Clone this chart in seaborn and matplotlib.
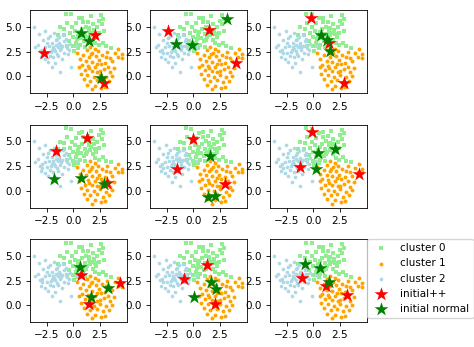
import numpy as np
import pandas as pd
import matplotlib
matplotlib.use("Agg")
import matplotlib.pyplot as plt
import seaborn as sns

# cluster points (x, y)
cluster0 = [
    (-0.73, 6.31), (-0.18, 6.27), (2.66, 6.18), (2.85, 5.83), (2.47, 5.62), (2.74, 5.24), (2.28, 4.97),
    (1.96, 4.72), (1.63, 4.41), (2.41, 4.36), (0.52, 5.84), (0.94, 5.47), (0.27, 5.36), (-0.13, 4.93),
    (-0.57, 5.41), (-1.22, 4.96), (1.17, 5.02), (1.52, 4.83), (0.81, 4.74), (0.16, 4.58), (-0.34, 4.37),
    (0.43, 4.12), (1.08, 4.26), (1.31, 3.94), (0.69, 3.83), (-0.04, 3.96), (-0.41, 3.57), (0.22, 3.38),
    (0.63, 3.16), (1.04, 3.52), (1.83, 3.68), (2.09, 3.33), (2.43, 3.12), (3.08, 3.04), (3.58, 2.86),
    (0.07, 2.58), (0.48, 2.83), (-0.92, 4.22), (-0.63, 3.08), (1.58, 4.17), (2.19, 3.96), (0.87, 5.92),
    (1.38, 5.53), (-0.84, 4.78), (1.12, 2.96), (2.77, 3.37), (-0.02, 3.04), (1.87, 5.27), (1.45, 4.58),
    (0.58, 4.47), (1.21, 3.71), (2.05, 4.24), (0.31, 3.72), (-1.43, 4.18), (2.92, 4.62), (1.68, 6.06),
]
cluster1 = [
    (1.58, 2.97), (2.03, 2.76), (1.27, 2.62), (1.81, 2.38), (2.36, 2.51), (4.27, 2.72), (4.58, 2.21),
    (3.96, 2.34), (4.63, 1.87), (4.18, 1.93), (0.96, 2.13), (1.52, 1.97), (2.14, 2.04), (2.72, 2.19),
    (3.07, 1.96), (3.48, 1.87), (0.62, 1.74), (1.24, 1.58), (1.77, 1.46), (2.42, 1.63), (2.97, 1.37),
    (3.63, 1.52), (0.83, 1.18), (1.41, 1.08), (2.02, 0.96), (2.63, 1.22), (3.28, 0.98), (3.81, 0.87),
    (1.07, 0.62), (1.73, 0.57), (2.28, 0.48), (2.88, 0.73), (3.46, 0.41), (0.71, 0.27), (1.34, 0.12),
    (1.92, -0.03), (2.48, 0.14), (3.12, -0.08), (3.67, 0.03), (1.02, -0.28), (1.62, -0.47), (2.23, -0.36),
    (2.81, -0.58), (3.38, -0.46), (1.27, -0.86), (2.04, -0.97), (2.58, -1.18), (1.79, -1.31), (3.02, -1.06),
    (0.38, 2.36), (1.63, 2.22), (2.21, 1.28), (1.48, 0.81), (2.51, 0.52), (3.22, 2.46), (0.58, 0.94),
]
cluster2 = [
    (-3.68, 5.02), (-3.27, 4.31), (-2.62, 4.58), (-2.17, 4.08), (-1.83, 4.37), (-1.38, 4.02), (-0.97, 4.17),
    (-0.72, 3.78), (-2.88, 3.71), (-2.46, 3.37), (-3.31, 3.18), (-3.57, 2.93), (-2.96, 2.68), (-2.68, 2.91),
    (-2.27, 3.02), (-1.97, 3.41), (-1.66, 3.62), (-1.31, 3.36), (-1.02, 3.07), (-0.62, 2.88), (-0.28, 3.27),
    (-1.48, 2.96), (-1.79, 2.72), (-2.12, 2.47), (-2.52, 2.38), (-2.91, 2.31), (-3.18, 2.52), (-1.21, 2.63),
    (-0.88, 2.37), (-0.52, 2.21), (-1.57, 2.28), (-2.23, 2.07), (-1.88, 1.92), (-1.42, 2.03), (-2.67, 1.77),
    (-2.41, 1.48), (-1.72, 1.38), (-1.08, 1.71), (-0.18, 0.97), (-1.23, 0.48), (-2.02, 0.91), (-0.83, 3.58),
    (-1.52, 3.81), (-2.38, 3.83), (-1.13, 2.88), (0.27, 3.02), (-0.41, 2.68), (-3.02, 1.98), (-1.62, 3.17),
    (-1.93, 2.98), (-1.28, 3.12), (-2.02, 2.68), (-1.69, 2.51), (-0.71, 3.21),
]

# initial centroids for each of the 9 runs
init_pp = [
    [(-2.8, 2.4), (2.1, 4.2), (2.9, -0.7)],
    [(-2.4, 4.6), (1.5, 4.7), (4.0, 1.3)],
    [(-0.2, 5.9), (1.5, 3.4), (2.9, -0.7)],
    [(-1.6, 4.0), (1.3, 5.3), (3.2, 0.8)],
    [(0.0, 5.2), (-1.5, 2.2), (3.0, 0.7)],
    [(-0.1, 5.9), (-1.3, 2.4), (4.3, 1.7)],
    [(0.7, 3.1), (4.4, 2.3), (1.5, 0.1)],
    [(-0.9, 2.7), (1.3, 4.1), (2.0, 0.1)],
    [(-1.1, 2.8), (1.2, 1.9), (3.2, 1.0)],
]
init_normal = [
    [(0.7, 4.4), (1.5, 3.6), (2.6, -0.2)],
    [(-1.6, 3.3), (-0.1, 3.2), (3.2, 5.8)],
    [(0.7, 4.2), (1.3, 3.7), (1.6, 2.6)],
    [(-1.8, 1.2), (0.7, 1.3), (2.9, 0.7)],
    [(1.6, 3.5), (1.4, -0.6), (2.0, -0.5)],
    [(0.4, 3.8), (2.0, 4.2), (0.2, 2.2)],
    [(0.6, 3.9), (3.3, 1.7), (1.7, 0.8)],
    [(1.7, 2.4), (2.1, 1.6), (0.1, 0.8)],
    [(-0.8, 4.2), (0.6, 3.8), (1.5, 2.4)],
]

plt.rcParams['font.size'] = 7.5

fig, axes = plt.subplots(3, 3, figsize=(4.74, 3.47), dpi=100)
fig.subplots_adjust(left=0.063, right=0.774, top=0.971, bottom=0.072, wspace=0.24, hspace=0.38)

c0 = np.array(cluster0)
c1 = np.array(cluster1)
c2 = np.array(cluster2)

for i, ax in enumerate(axes.flat):
    sns.scatterplot(x=c0[:, 0], y=c0[:, 1], color='lightgreen', marker='s', s=7,
                    linewidth=0, ax=ax, label='cluster 0')
    sns.scatterplot(x=c1[:, 0], y=c1[:, 1], color='orange', marker='o', s=8,
                    linewidth=0, ax=ax, label='cluster 1')
    sns.scatterplot(x=c2[:, 0], y=c2[:, 1], color='lightblue', marker='o', s=7,
                    linewidth=0, ax=ax, label='cluster 2')
    pp = np.array(init_pp[i])
    nn = np.array(init_normal[i])
    sns.scatterplot(x=pp[:, 0], y=pp[:, 1], color='red', marker='*', s=110,
                    linewidth=0, ax=ax, label='initial++')
    sns.scatterplot(x=nn[:, 0], y=nn[:, 1], color='green', marker='*', s=110,
                    linewidth=0, ax=ax, label='initial normal')
    ax.set_xticks([-2.5, 0.0, 2.5])
    ax.set_yticks([0.0, 2.5, 5.0])
    ax.tick_params(labelsize=7.5, length=2.6, width=0.6)
    for sp in ax.spines.values():
        sp.set_linewidth(0.6)
    if i < 8:
        ax.get_legend().remove()

axes[2, 2].legend(loc='upper left', bbox_to_anchor=(1, 1), borderaxespad=0, fontsize=7.5)

fig.savefig('out.png', dpi=100)
